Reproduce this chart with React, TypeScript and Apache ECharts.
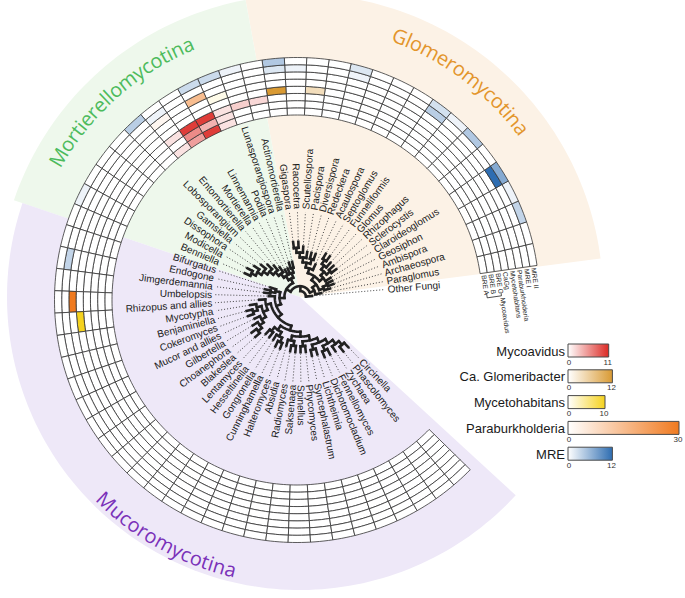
import React, { useEffect, useRef } from 'react';
import * as echarts from 'echarts';

// ---------------- data ----------------
const TAXA: string[] = [
  'Other Fungi', 'Paraglomus', 'Archaeospora', 'Ambispora', 'Geosiphon', 'Claroideoglomus', 'Sclerocystis',
  'Rhizophagus', 'Glomus', 'Funneliformis', 'Septoglomus', 'Acaulospora', 'Redeckera', 'Diversispora',
  'Pacispora', 'Scutellospora', 'Racocetra', 'Gigaspora', 'Actinomortierella', 'Lunasporangiospora',
  'Podila', 'Linnemannia', 'Mortierella', 'Entomortierella', 'Lobosporangium', 'Gamsiella', 'Dissophora',
  'Modicella', 'Benniella', 'Bifurgatus', 'Endogone', 'Jimgerdemannia', 'Umbelopsis', 'Rhizopus and allies',
  'Mycotypha', 'Benjaminiella', 'Cokeromyces', 'Mucor and allies', 'Gilbertella', 'Choanephora', 'Blakeslea',
  'Lentamyces', 'Hesseltinella', 'Gongronella', 'Cunninghamella', 'Halteromyces', 'Absidia', 'Radiomyces',
  'Saksenaea', 'Spinellus', 'Phycomyces', 'Syncephalastrum', 'Lichtheimia', 'Dichotomocladium',
  'Fennellomyces', 'Zychaea', 'Phascolomyces', 'Circinella'
];

type Tree = number | Tree[];
const GLOMERO: Tree = [1, [[2, [3, 4]], [[5, [[6, 7], [8, [9, 10]]]], [11, [[12, 13], [14, [15, [16, 17]]]]]]]];
const MORTIERELLO: Tree = [[[18, 19], 20], [21, [22, [23, [24, [25, [26, [27, 28]]]]]]]];
const MUC_A: Tree = [33, [[34, [35, 36]], [37, [38, [39, 40]]]]];
const MUC_G: Tree = [[53, 54], [55, [56, 57]]];
const MUC_F: Tree = [[51, 52], MUC_G];
const MUC_E: Tree = [[49, 50], MUC_F];
const MUC_D: Tree = [[46, [47, 48]], MUC_E];
const MUC_C: Tree = [[41, 42], [43, [44, 45]]];
const MUCORALES: Tree = [MUC_A, [MUC_C, MUC_D]];
const MUCORO: Tree = [[29, [30, 31]], [32, MUCORALES]];
const TREE: Tree = [0, [GLOMERO, [MORTIERELLO, MUCORO]]];

const GROUP_NAMES = ['Glomeromycotina', 'Mortierellomycotina', 'Mucoromycotina'];
const GROUP_TEXT_COLORS = ['#e3952b', '#4dbb5c', '#7a31b9'];
const GROUP_BG_COLORS = ['#fcf2e6', '#eef8ec', '#eee8f8'];
// clade background spans, in leaf units
const GROUP_SPANS = [[0.42, 17.6], [17.6, 28.84], [28.84, 57.64]];
const GROUP_BG_R = [303, 302, 293];

const TRACKS = ['BRE A', 'BRE B', 'BRE C', 'CaGg', 'Mycetohabitans', 'Paraburkholderia', 'MRE I', 'MRE II'];
const TRACK_LEGEND = [0, 0, 0, 1, 2, 3, 4, 4];

const LEGEND_NAMES = ['Mycoavidus', 'Ca. Glomeribacter', 'Mycetohabitans', 'Paraburkholderia', 'MRE'];
const LEGEND_MAX = [11, 12, 10, 30, 12];
const LEGEND_COLORS = ['#dc2a25', '#d99a33', '#f5d21e', '#f07a1f', '#2e6db1'];

// [taxon index, value]
const BRE_A = [[19, 1.5], [20, 10], [21, 5], [22, 1.5]];
const BRE_B = [[19, 1.5], [20, 4], [21, 6]];
const BRE_C = [[17, 2], [18, 2.5], [19, 1.5], [20, 10], [21, 10], [22, 1.5]];
const CAGG = [[14, 4], [16, 12]];
const MYCETO = [[19, 1], [33, 10]];
const PARA = [[20, 15], [22, 2], [32, 30]];
const MRE_I = [[4, 12], [8, 4], [12, 1], [15, 1], [16, 2], [22, 1], [30, 3.5]];
const MRE_II = [[2, 3.5], [3, 1], [4, 7], [6, 4.5], [7, 1], [8, 2.5], [12, 2], [16, 4.5], [18, 1], [19, 3], [20, 3], [23, 4], [27, 1]];
const TRACK_VALUES = [BRE_A, BRE_B, BRE_C, CAGG, MYCETO, PARA, MRE_I, MRE_II];

// ---------------- layout ----------------
const W = 685, H = 598;
const CX = 297, CY = 300;          // heat-map ring centre
const TCX = 300, TCY = 297;        // tree / label centre
const RMAX = 400;
const STEP = 5.30, START_ANGLE = 8.2;        // ring
const LSTEP = 5.42, LSTART = 5;              // leaves
const R_IN = 185, R_OUT = 242.5;
const TH = (R_OUT - R_IN) / TRACKS.length;
const LABEL_R = 88;
const ROOT_R = 6, DR = 4.8, LEAF_LEN = 6;
const FONT = '"Liberation Sans", Arial, sans-serif';

function hexRgb(h: string) {
  const n = parseInt(h.slice(1), 16);
  return [(n >> 16) & 255, (n >> 8) & 255, n & 255];
}
function mix(hex: string, t: number) {
  t = Math.max(0, Math.min(1, t));
  const [r, g, b] = hexRgb(hex);
  const f = (c: number) => Math.round(255 + (c - 255) * t);
  return `rgb(${f(r)},${f(g)},${f(b)})`;
}

interface Edge { kind: string; a1: number; a2: number; r1: number; r2: number }
const EDGES: Edge[] = [];
const TIPS: { a: number; r: number }[] = [];
function lay(node: Tree, depth: number): { a: number; r: number } {
  if (typeof node === 'number') {
    const r = ROOT_R + (depth - 1) * DR + LEAF_LEN;
    TIPS[node] = { a: node, r };
    return TIPS[node];
  }
  const r = ROOT_R + depth * DR;
  const kids = node.map((k) => lay(k, depth + 1));
  let lo = Infinity, hi = -Infinity;
  kids.forEach((k) => {
    EDGES.push({ kind: 'r', a1: k.a, a2: k.a, r1: r, r2: k.r });
    lo = Math.min(lo, k.a); hi = Math.max(hi, k.a);
  });
  EDGES.push({ kind: 'a', a1: lo, a2: hi, r1: r, r2: r });
  return { a: (lo + hi) / 2, r };
}
lay(TREE, 0);

interface Cell { i: number; t: number; color: string }
const CELLS: Cell[] = [];
TRACKS.forEach((_, t) => {
  const lk = TRACK_LEGEND[t];
  const vals: Record<number, number> = {};
  TRACK_VALUES[t].forEach(([i, v]) => { vals[i] = v; });
  TAXA.forEach((_, i) => {
    const v = vals[i] || 0;
    CELLS.push({ i, t, color: v > 0 ? mix(LEGEND_COLORS[lk], v / LEGEND_MAX[lk]) : '#ffffff' });
  });
});

const pt = (p: number[]) => [p[0], p[1]];

function screenAngle(api: any, v: number) {
  const c = api.coord([0, v]);
  const p = api.coord([100, v]);
  return Math.atan2(-(p[1] - c[1]), p[0] - c[0]);
}

function curvedTitle(text: string, centerDeg: number, r: number, color: string, bottom: boolean, size: number) {
  const canvas = document.createElement('canvas');
  const ctx = canvas.getContext('2d')!;
  const font = `${size}px "Open Sans", "Noto Sans", sans-serif`;
  ctx.font = font;
  const chars = text.split('');
  const widths = chars.map((c) => ctx.measureText(c).width);
  const total = widths.reduce((a, b) => a + b, 0);
  const els: any[] = [];
  let s = 0;
  chars.forEach((ch, k) => {
    const mid = s + widths[k] / 2;
    s += widths[k];
    const d = ((mid - total / 2) / r) * 180 / Math.PI;
    const th = bottom ? centerDeg + d : centerDeg - d;
    const rad = th * Math.PI / 180;
    els.push({
      type: 'text', z: 100,
      x: CX + r * Math.cos(rad),
      y: CY - r * Math.sin(rad),
      rotation: ((bottom ? th + 90 : th - 90) * Math.PI) / 180,
      silent: true,
      style: { text: ch, font, fill: color, align: 'center', verticalAlign: 'middle' }
    });
  });
  return els;
}

const hidden = { axisLine: { show: false }, axisTick: { show: false }, axisLabel: { show: false }, splitLine: { show: false } };

function buildOption(): any {
  const graphics: any[] = [];
  graphics.push(...curvedTitle(GROUP_NAMES[0], 53.2, 283, GROUP_TEXT_COLORS[0], false, 20));
  graphics.push(...curvedTitle(GROUP_NAMES[1], 131.5, 278, GROUP_TEXT_COLORS[1], false, 20));
  graphics.push(...curvedTitle(GROUP_NAMES[2], 241, 277, GROUP_TEXT_COLORS[2], true, 20));

  // legend
  const LX = 568, LY0 = 344, LDY = 25.8, LH = 13, LPX = 3.7;
  LEGEND_NAMES.forEach((name, k) => {
    const y = LY0 + k * LDY;
    const w = LEGEND_MAX[k] * LPX;
    graphics.push({
      type: 'rect', silent: true, z: 100,
      shape: { x: LX, y, width: w, height: LH },
      style: {
        fill: new echarts.graphic.LinearGradient(0, 0, 1, 0, [
          { offset: 0, color: '#ffffff' }, { offset: 1, color: LEGEND_COLORS[k] }
        ]),
        stroke: '#4a4a4a', lineWidth: 1
      }
    });
    graphics.push({
      type: 'text', x: LX - 3, y: y + LH / 2 + 0.5, silent: true, z: 100,
      style: { text: name, font: `13px ${FONT}`, fill: '#1a1a1a', align: 'right', verticalAlign: 'middle' }
    });
    graphics.push({
      type: 'text', x: LX + 1, y: y + LH + 1, silent: true, z: 100,
      style: { text: '0', font: `8px ${FONT}`, fill: '#333', align: 'center', verticalAlign: 'top' }
    });
    graphics.push({
      type: 'text', x: LX + w - 1, y: y + LH + 1, silent: true, z: 100,
      style: { text: String(LEGEND_MAX[k]), font: `8px ${FONT}`, fill: '#333', align: 'center', verticalAlign: 'top' }
    });
  });

  const idx = (arr: any[]) => arr.map((_, i) => [i, i]);

  return {
    animation: false,
    backgroundColor: '#ffffff',
    polar: [
      { center: [CX, CY], radius: [0, RMAX] },
      { center: [TCX, TCY], radius: [0, RMAX] }
    ],
    angleAxis: [
      { polarIndex: 0, type: 'value', min: 0, max: 360 / STEP, startAngle: START_ANGLE, clockwise: false, ...hidden },
      { polarIndex: 1, type: 'value', min: 0, max: 360 / LSTEP, startAngle: LSTART, clockwise: false, ...hidden }
    ],
    radiusAxis: [
      { polarIndex: 0, type: 'value', min: 0, max: RMAX, ...hidden },
      { polarIndex: 1, type: 'value', min: 0, max: RMAX, ...hidden }
    ],
    graphic: graphics,
    series: [
      {
        type: 'custom', name: 'clades', coordinateSystem: 'polar', polarIndex: 1, silent: true, z: 1,
        data: idx(GROUP_SPANS),
        renderItem: (params: any, api: any) => {
          const [a0, a1] = GROUP_SPANS[params.dataIndex];
          const R = GROUP_BG_R[params.dataIndex];
          const pts: number[][] = [pt(api.coord([0, a0]))];
          const n = Math.ceil((a1 - a0) * 4);
          for (let k = 0; k <= n; k++) pts.push(pt(api.coord([R, a0 + ((a1 - a0) * k) / n])));
          return { type: 'polygon', shape: { points: pts }, style: { fill: GROUP_BG_COLORS[params.dataIndex], stroke: null } };
        }
      },
      {
        type: 'custom', name: 'heatmap', coordinateSystem: 'polar', polarIndex: 0, silent: true, z: 2,
        data: idx(CELLS),
        renderItem: (params: any, api: any) => {
          const c = CELLS[params.dataIndex];
          const r0 = R_IN + c.t * TH, r1 = r0 + TH;
          const pts: number[][] = [];
          const n = 5;
          for (let k = 0; k <= n; k++) pts.push(pt(api.coord([r1, c.i + k / n])));
          for (let k = n; k >= 0; k--) pts.push(pt(api.coord([r0, c.i + k / n])));
          return { type: 'polygon', shape: { points: pts }, style: { fill: c.color, stroke: '#333', lineWidth: 0.8 } };
        }
      },
      {
        type: 'custom', name: 'dots', coordinateSystem: 'polar', polarIndex: 1, silent: true, z: 3,
        data: idx(TIPS),
        renderItem: (params: any, api: any) => {
          const t = TIPS[params.dataIndex];
          const a = api.coord([t.r + 1.5, t.a]);
          const b = api.coord([LABEL_R - 3, t.a]);
          return {
            type: 'line',
            shape: { x1: a[0], y1: a[1], x2: b[0], y2: b[1] },
            style: { stroke: '#444', lineWidth: 1, lineDash: [1, 2] }
          };
        }
      },
      {
        type: 'custom', name: 'tree', coordinateSystem: 'polar', polarIndex: 1, silent: true, z: 4,
        data: idx(EDGES),
        renderItem: (params: any, api: any) => {
          const e = EDGES[params.dataIndex];
          const pts: number[][] = [];
          if (e.kind === 'r') {
            pts.push(pt(api.coord([e.r1, e.a1])), pt(api.coord([e.r2, e.a1])));
          } else {
            const n = Math.max(2, Math.ceil((e.a2 - e.a1) * 4));
            for (let k = 0; k <= n; k++) pts.push(pt(api.coord([e.r1, e.a1 + ((e.a2 - e.a1) * k) / n])));
          }
          return { type: 'polyline', shape: { points: pts }, style: { stroke: '#222', lineWidth: 2.6, fill: 'none', lineCap: 'square', lineJoin: 'miter' } };
        }
      },
      {
        type: 'custom', name: 'labels', coordinateSystem: 'polar', polarIndex: 1, silent: true, z: 5,
        data: idx(TAXA),
        renderItem: (params: any, api: any) => {
          const i = params.dataIndex;
          const p = api.coord([LABEL_R, i]);
          const a = screenAngle(api, i);
          const right = Math.cos(a) >= 0;
          return {
            type: 'text', x: p[0], y: p[1], rotation: right ? a : a - Math.PI,
            style: { text: TAXA[i], font: `10px ${FONT}`, fill: '#1a1a1a', align: right ? 'left' : 'right', verticalAlign: 'middle' }
          };
        }
      },
      {
        type: 'custom', name: 'tracks', coordinateSystem: 'polar', polarIndex: 0, silent: true, z: 5,
        data: idx(TRACKS),
        renderItem: (params: any, api: any) => {
          const t = params.dataIndex;
          const p = api.coord([R_IN + (t + 0.5) * TH, 0]);
          const a = screenAngle(api, 0);
          const tx = Math.sin(a), ty = Math.cos(a);
          return {
            type: 'text', x: p[0] + tx * 2, y: p[1] + ty * 2, rotation: a - Math.PI / 2,
            style: { text: TRACKS[t], font: `6.8px ${FONT}`, fill: '#222', align: 'left', verticalAlign: 'middle' }
          };
        }
      },
      {
        type: 'custom', name: 'bracket', coordinateSystem: 'polar', polarIndex: 0, silent: true, z: 5,
        data: [[0, 0]],
        renderItem: (params: any, api: any) => {
          const a = screenAngle(api, 0);
          const tx = Math.sin(a), ty = Math.cos(a);
          const at = (r: number, L: number) => { const p = api.coord([r, 0]); return [p[0] + tx * L, p[1] + ty * L]; };
          const rA = R_IN + 0.5 * TH, rC = R_IN + 2.5 * TH;
          const m = at(rC + 1, 27);
          return {
            type: 'group',
            children: [
              { type: 'polyline', shape: { points: [at(rA, 21), at(rA, 25), at(rC, 25), at(rC, 21)] }, style: { stroke: '#222', lineWidth: 0.8, fill: 'none' } },
              { type: 'text', x: m[0], y: m[1], rotation: a - Math.PI / 2, style: { text: 'Mycoavidus', font: `6.8px ${FONT}`, fill: '#222', align: 'left', verticalAlign: 'middle' } }
            ]
          };
        }
      }
    ]
  };
}

export default function App() {
  const ref = useRef<HTMLDivElement>(null);
  useEffect(() => {
    document.body.style.margin = '0';
    const chart = echarts.init(ref.current!, null, { renderer: 'svg' });
    chart.setOption(buildOption());
    return () => chart.dispose();
  }, []);
  return <div ref={ref} style={{ width: W, height: H }} />;
}
